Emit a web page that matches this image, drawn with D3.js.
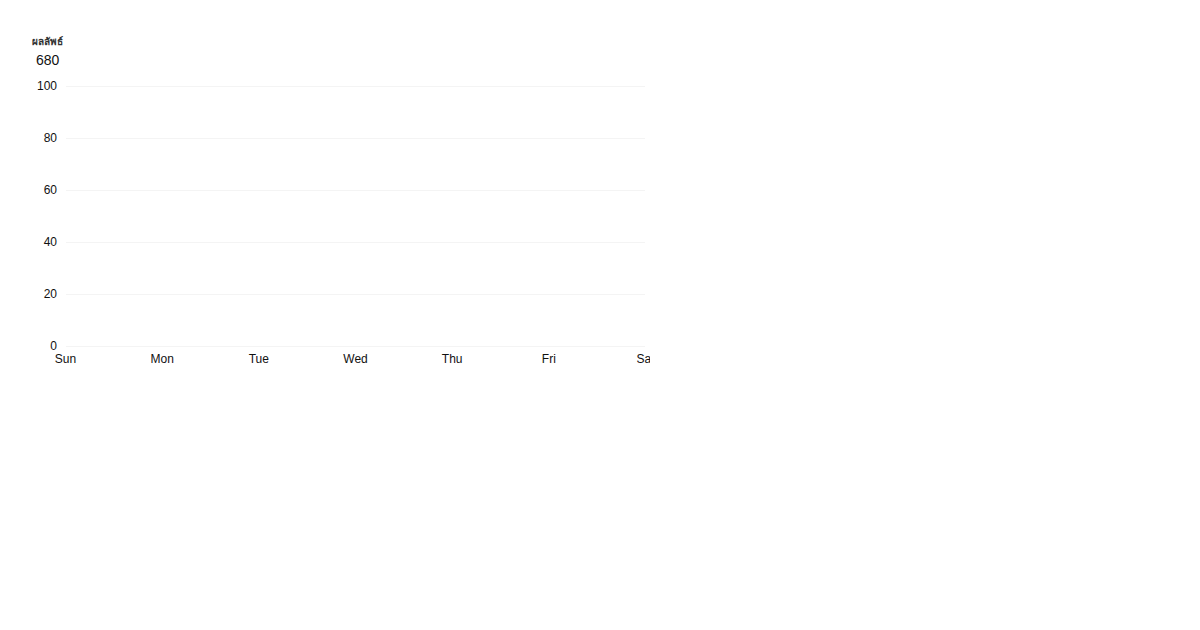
<!DOCTYPE html>
<html>
<head>
<meta charset="utf-8">
<script src="https://cdn.jsdelivr.net/npm/d3@7"></script>
<style>
  body { margin: 0; background: #fff; }
  svg { display: block; font-family: "Liberation Sans", Arial, sans-serif; }
  .grid line { stroke: #f4f4f4; stroke-width: 1; }
  .grid .domain { display: none; }
  .axis .domain, .axis line { display: none; }
  .axis text { fill: #111; font-size: 12px; }
</style>
</head>
<body>
<script>
"use strict";

// chart data
let days = ['Sun', 'Mon', 'Tue', 'Wed', 'Thu', 'Fri', 'Sat'];
let values = []; // no series drawn
let yTicks = [0, 20, 40, 60, 80, 100];
let titleLabel = 'ผลลัพธ์';
let totalValue = 680;

let width = 650;

let svg = d3.select('body').append('svg')
  .attr('width', width)
  .attr('height', 380);

let x = d3.scalePoint()
  .domain(days)
  .range([65, 645]);

let y = d3.scaleLinear()
  .domain([0, 100])
  .range([346, 86]);

// gridlines
svg.append('g')
  .attr('class', 'grid')
  .attr('transform', 'translate(66,0)')
  .call(d3.axisLeft(y).tickValues(yTicks).tickSize(-579).tickFormat(''));

// y axis labels
svg.append('g')
  .attr('class', 'axis')
  .attr('transform', 'translate(57,0)')
  .call(d3.axisLeft(y).tickValues(yTicks).tickSize(0).tickPadding(0));

// x axis labels
svg.append('g')
  .attr('class', 'axis')
  .attr('transform', 'translate(0,351)')
  .call(d3.axisBottom(x).tickSize(0).tickPadding(3));

// heading
svg.append('text')
  .attr('x', 32)
  .attr('y', 45)
  .style('font-family', '"DejaVu Serif", serif')
  .style('font-weight', 'bold')
  .style('font-size', '10px')
  .style('fill', '#333')
  .text(titleLabel);

svg.append('text')
  .attr('x', 36)
  .attr('y', 65)
  .style('font-size', '14px')
  .style('fill', '#111')
  .text(totalValue);
</script>
</body>
</html>
